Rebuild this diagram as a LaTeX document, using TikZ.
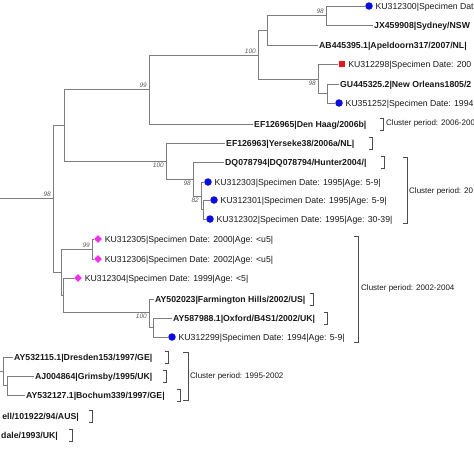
\documentclass[tikz,border=0pt]{standalone}
\usepackage{fontspec}
\setmainfont{Liberation Sans}
\usetikzlibrary{positioning, shapes.geometric}
\definecolor{brgray}{RGB}{125,125,125}
\definecolor{dotblue}{RGB}{12,12,225}
\definecolor{sqred}{RGB}{232,20,30}
\definecolor{diamag}{RGB}{240,50,230}

\begin{document}
\begin{tikzpicture}[
   x=1pt, y=-1pt, node distance=1.5pt,
   br/.style={draw=brgray, line width=0.8pt},
   brk/.style={draw=black!70, line width=0.7pt},
   lab/.style={anchor=west, inner sep=1pt, text height=7pt, text depth=1pt,
               font=\fontsize{8.7}{10}\selectfont, text=black!90},
   rf/.style={lab, font=\fontsize{8.7}{10}\selectfont\bfseries},
   boot/.style={inner sep=0.5pt, font=\fontsize{6.5}{7}\selectfont\itshape, text=black!65},
   clus/.style={anchor=west, inner sep=1pt, font=\fontsize{8}{9}\selectfont, text=black!90},
   dot/.style={circle, fill=dotblue, minimum size=7.5pt, inner sep=0pt},
   sqr/.style={rectangle, fill=sqred, minimum size=6.8pt, inner sep=0pt},
   dia/.style={diamond, fill=diamag, minimum size=8pt, inner sep=0pt}]
  \useasboundingbox (0,0) rectangle (474,474);
  \clip (0,0) rectangle (474,474);

  % inner nodes of the tree
  \coordinate (in1) at (0,198);
  \coordinate (root) at (53,198);
  \coordinate (up) at (64,125);
  \coordinate (n99) at (149,89);
  \coordinate (n100) at (258,55);
  \coordinate (ga) at (267,30);
  \coordinate (n98) at (326,15.5);
  \coordinate (n98b) at (318,79);
  \coordinate (gb) at (327,93.5);
  \coordinate (n100b) at (166,161);
  \coordinate (n98c) at (193,179);
  \coordinate (n82) at (201,196);
  \coordinate (gc) at (203,209.5);
  \coordinate (low) at (61,272);
  \coordinate (n99b) at (92,249);
  \coordinate (gd) at (63,295);
  \coordinate (n100c) at (149,312);
  \coordinate (ge) at (153,327.5);
  \coordinate (in2) at (0,371);
  \coordinate (gf) at (3,371);
  \coordinate (gg) at (7,385.5);

  % leaves
  \node[dot] (m300) at (369,6) {};
  \node[lab, right=of m300] (t300) {KU312300|Specimen Date};
  \node[rf] (tJX) at (373,25) {JX459908|Sydney/NSW};
  \node[rf] (tAB) at (318,45) {AB445395.1|Apeldoorn317/2007/NL|};
  \node[sqr] (m298) at (342,64) {};
  \node[lab, right=of m298] (t298) {KU312298|Specimen Date: 200};
  \node[rf] (tGU) at (339,84) {GU445325.2|New Orleans1805/2};
  \node[dot] (m252) at (339,103) {};
  \node[lab, right=of m252] (t252) {KU351252|Specimen Date: 1994};
  \node[rf] (tEF5) at (253,124) {EF126965|Den Haag/2006b|};
  \node[rf] (tEF3) at (225,143) {EF126963|Yerseke38/2006a/NL|};
  \node[rf] (tDQ) at (224,162) {DQ078794|DQ078794/Hunter2004/|};
  \node[dot] (m303) at (208,182) {};
  \node[lab, right=of m303] (t303) {KU312303|Specimen Date: 1995|Age: 5-9|};
  \node[dot] (m301) at (214,200) {};
  \node[lab, right=of m301] (t301) {KU312301|Specimen Date: 1995|Age: 5-9|};
  \node[dot] (m302) at (210,219) {};
  \node[lab, right=of m302] (t302) {KU312302|Specimen Date: 1995|Age: 30-39|};
  \node[dia] (m305) at (98,239) {};
  \node[lab, right=of m305] (t305) {KU312305|Specimen Date: 2000|Age: <u5|};
  \node[dia] (m306) at (98,259) {};
  \node[lab, right=of m306] (t306) {KU312306|Specimen Date: 2002|Age: <u5|};
  \node[dia] (m304) at (78,278) {};
  \node[lab, right=of m304] (t304) {KU312304|Specimen Date: 1999|Age: <5|};
  \node[rf] (tFH) at (154,299) {AY502023|Farmington Hills/2002/US|};
  \node[rf] (tOX) at (172,318) {AY587988.1|Oxford/B4S1/2002/UK|};
  \node[dot] (m299) at (172,337) {};
  \node[lab, right=of m299] (t299) {KU312299|Specimen Date: 1994|Age: 5-9|};
  \node[rf] (tDR) at (13,357) {AY532115.1|Dresden153/1997/GE|};
  \node[rf] (tGR) at (34,376) {AJ004864|Grimsby/1995/UK|};
  \node[rf] (tBO) at (25,395) {AY532127.1|Bochum339/1997/GE|};
  \node[rf, anchor=east] (tAUS) at (80,416) {ell/101922/94/AUS|};
  \node[rf, anchor=east] (tUK) at (59,435) {dale/1993/UK|};

  % branches
  \draw[br] (in1) -- (root);
  \draw[br] (root) |- (up);
  \draw[br] (root) |- (low);
  \draw[br] (up) |- (n99);
  \draw[br] (up) |- (n100b);
  \draw[br] (n99) |- (n100);
  \draw[br] (n99) |- (tEF5);
  \draw[br] (n100) |- (ga);
  \draw[br] (n100) |- (n98b);
  \draw[br] (ga) |- (n98);
  \draw[br] (ga) |- (tAB);
  \draw[br] (n98) |- (m300);
  \draw[br] (n98) |- (tJX);
  \draw[br] (n98b) |- (m298);
  \draw[br] (n98b) |- (gb);
  \draw[br] (gb) |- (tGU);
  \draw[br] (gb) |- (m252);
  \draw[br] (n100b) |- (tEF3);
  \draw[br] (n100b) |- (n98c);
  \draw[br] (n98c) |- (tDQ);
  \draw[br] (n98c) |- (n82);
  \draw[br] (n82) |- (m303);
  \draw[br] (n82) |- (gc);
  \draw[br] (gc) |- (m301);
  \draw[br] (gc) |- (m302);
  \draw[br] (low) |- (n99b);
  \draw[br] (low) |- (gd);
  \draw[br] (n99b) |- (m305);
  \draw[br] (n99b) |- (m306);
  \draw[br] (gd) |- (m304);
  \draw[br] (gd) |- (n100c);
  \draw[br] (n100c) |- (tFH);
  \draw[br] (n100c) |- (ge);
  \draw[br] (ge) |- (tOX);
  \draw[br] (ge) |- (m299);
  \draw[br] (in2) -- (gf);
  \draw[br] (gf) |- (tDR);
  \draw[br] (gf) |- (gg);
  \draw[br] (gg) |- (tGR);
  \draw[br] (gg) |- (tBO);

  % support values
  \node[boot, above left=1pt and 1.5pt of root] (broot) {98};
  \node[boot, above left=1pt and 1.5pt of n99] (b99) {99};
  \node[boot, above left=1pt and 1.5pt of n100] (b100) {100};
  \node[boot, above left=1pt and 1.5pt of n98] (b98) {98};
  \node[boot, below left=1.5pt and 1.5pt of n98b] (b98b) {98};
  \node[boot, below left=1.5pt and 1.5pt of n100b] (b100b) {100};
  \node[boot, below left=1.5pt and 1.5pt of n98c] (b98c) {98};
  \node[boot, below left=1.5pt and 1.5pt of n82] (b82) {82};
  \node[boot, above left=1pt and 1.5pt of n99b] (b99b) {99};
  \node[boot, below left=1.5pt and 1.5pt of n100c] (b100c) {100};

  % cluster brackets
  \draw[brk] (379.5,118) -- (383,118) -- (383,130) -- (379.5,130);
  \draw[brk] (368.5,137) -- (372,137) -- (372,149) -- (368.5,149);
  \draw[brk] (380.5,156) -- (384,156) -- (384,168) -- (380.5,168);
  \draw[brk] (309.5,293) -- (313,293) -- (313,305) -- (309.5,305);
  \draw[brk] (323.5,312) -- (327,312) -- (327,324) -- (323.5,324);
  \draw[brk] (164.5,351) -- (168,351) -- (168,363) -- (164.5,363);
  \draw[brk] (162.5,370) -- (166,370) -- (166,382) -- (162.5,382);
  \draw[brk] (176.5,389) -- (180,389) -- (180,401) -- (176.5,401);
  \draw[brk] (88.5,410) -- (92,410) -- (92,422) -- (88.5,422);
  \draw[brk] (68.5,429) -- (72,429) -- (72,441) -- (68.5,441);
  \draw[brk] (403,157) -- (407,157) -- (407,223) -- (403,223);
  \draw[brk] (354,236) -- (358,236) -- (358,342) -- (354,342);
  \draw[brk] (183,352) -- (188,352) -- (188,400) -- (183,400);
  \node[clus] (c1) at (385,123) {Cluster period: 2006-200};
  \node[clus] (c2) at (408,191) {Cluster period: 20};
  \node[clus] (c3) at (360,288) {Cluster period: 2002-2004};
  \node[clus] (c4) at (189,376) {Cluster period: 1995-2002};
\end{tikzpicture}
\end{document}
